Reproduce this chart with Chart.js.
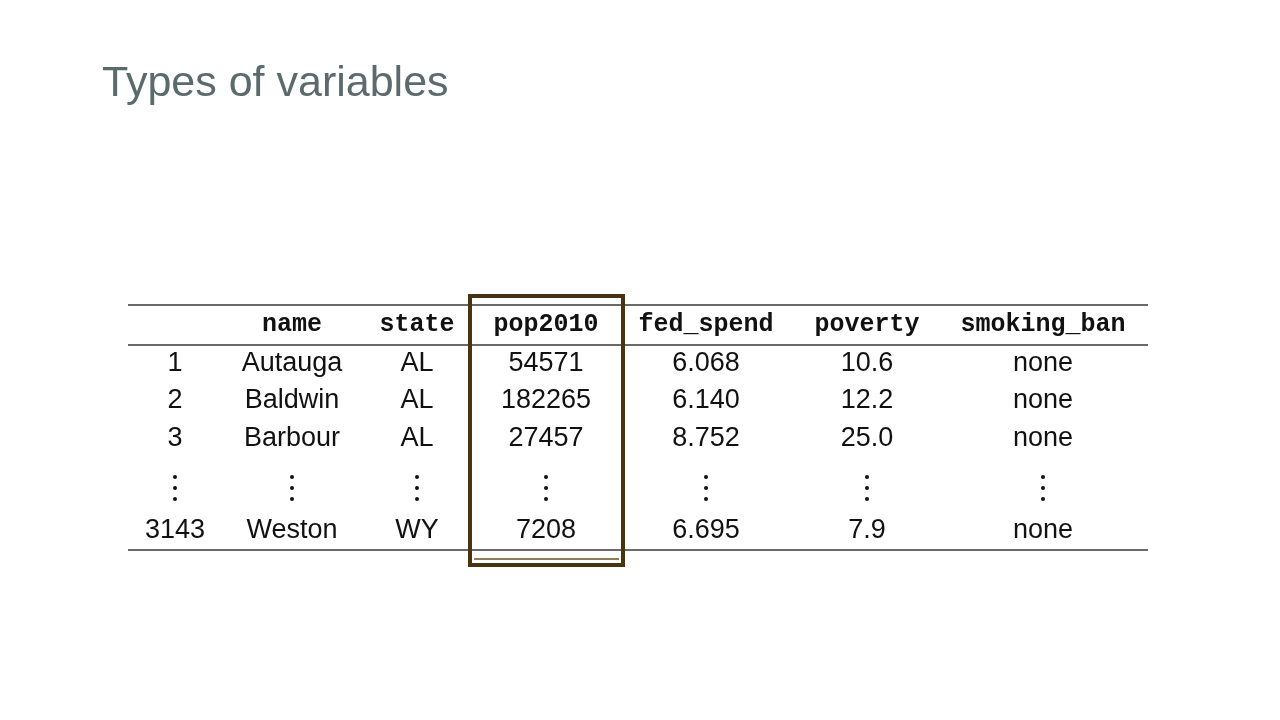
<!DOCTYPE html>
<html><head><meta charset="utf-8">
<script src="https://cdn.jsdelivr.net/npm/chart.js@4/dist/chart.umd.min.js"></script>
<style>html,body{margin:0;background:#fff}canvas{display:block}</style>
</head><body>
<canvas id="c" width="1280" height="720"></canvas>
<script>
const title = "Types of variables";
const headers = ["", "name", "state", "pop2010", "fed_spend", "poverty", "smoking_ban"];
const rowIds = ["1", "2", "3", "⋮", "3143"];
const names = ["Autauga", "Baldwin", "Barbour", "⋮", "Weston"];
const states = ["AL", "AL", "AL", "⋮", "WY"];
const pop2010 = ["54571", "182265", "27457", "⋮", "7208"];
const fedSpend = ["6.068", "6.140", "8.752", "⋮", "6.695"];
const poverty = ["10.6", "12.2", "25.0", "⋮", "7.9"];
const smokingBan = ["none", "none", "none", "⋮", "none"];

// layout (pixel coordinates in a 1280x720 linear frame)
const colX = [175, 292, 417, 546, 706, 867, 1043];
const headerY = 325;
const rowY = [363, 400, 438, 488, 530];

const columns = [rowIds, names, states, pop2010, fedSpend, poverty, smokingBan];

const tablePlugin = {
  id: 'table',
  afterDraw(chart) {
    const ctx = chart.ctx, xs = chart.scales.x, ys = chart.scales.y;
    const X = v => xs.getPixelForValue(v), Y = v => ys.getPixelForValue(v);
    ctx.save();
    ctx.fillStyle = '#5b6b6d';
    ctx.font = '43px "Liberation Sans", Arial, sans-serif';
    ctx.textBaseline = 'alphabetic';
    ctx.textAlign = 'left';
    ctx.fillText(title, X(102), Y(96));
    // rules
    ctx.strokeStyle = '#6a6a6a'; ctx.lineWidth = 2;
    [305, 345, 550].forEach(y => { ctx.beginPath(); ctx.moveTo(X(128), Y(y)); ctx.lineTo(X(1148), Y(y)); ctx.stroke(); });
    // headers
    ctx.fillStyle = '#111';
    ctx.textAlign = 'center'; ctx.textBaseline = 'middle';
    ctx.font = 'bold 25px "Liberation Mono", "DejaVu Sans Mono", monospace';
    headers.forEach((h, i) => ctx.fillText(h, X(colX[i]), Y(headerY)));
    // cells
    ctx.font = '27px "Liberation Sans", Arial, sans-serif';
    columns.forEach((col, i) => col.forEach((v, r) => {
      if (v === '⋮') {
        [-11, 0, 11].forEach(d => { ctx.beginPath(); ctx.arc(X(colX[i]), Y(rowY[r] + d), 2, 0, Math.PI * 2); ctx.fill(); });
      } else ctx.fillText(v, X(colX[i]), Y(rowY[r] + 1));
    }));
    // highlight box
    ctx.strokeStyle = '#4a3310'; ctx.lineWidth = 4;
    ctx.strokeRect(X(470), Y(296), X(623) - X(470), Y(565) - Y(296));
    ctx.strokeStyle = '#6a5020'; ctx.lineWidth = 1.5;
    ctx.beginPath(); ctx.moveTo(X(474), Y(559)); ctx.lineTo(X(619), Y(559)); ctx.stroke();
    ctx.restore();
  }
};

new Chart(document.getElementById('c'), {
  type: 'scatter',
  data: { datasets: [{ data: [], pointRadius: 0 }] },
  options: {
    responsive: false, animation: false,
    layout: { padding: 0 },
    plugins: { legend: { display: false }, tooltip: { enabled: false } },
    scales: {
      x: { type: 'linear', min: 0, max: 1280, display: false },
      y: { type: 'linear', min: 0, max: 720, reverse: true, display: false }
    }
  },
  plugins: [tablePlugin]
});
</script>
</body></html>
